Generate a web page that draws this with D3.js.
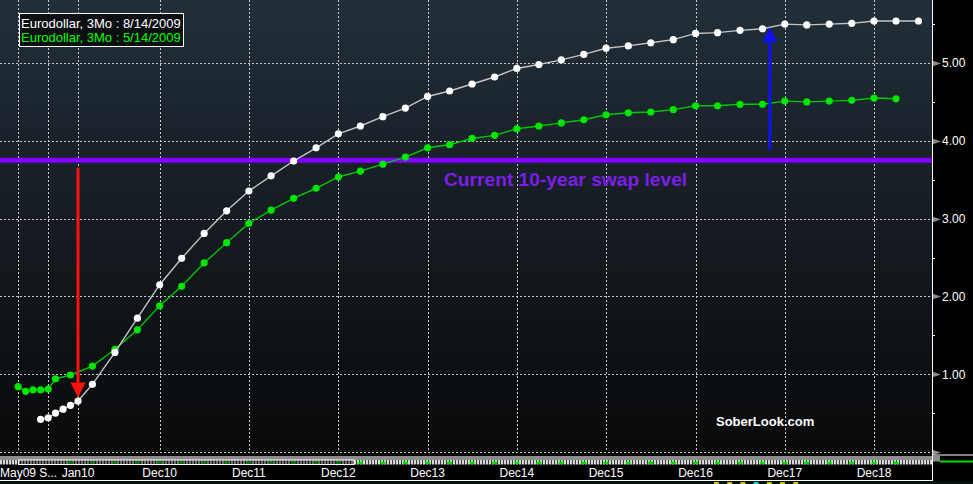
<!DOCTYPE html>
<html>
<head>
<meta charset="utf-8">
<script src="https://cdn.jsdelivr.net/npm/d3@7"></script>
<style>
html,body{margin:0;padding:0;background:#000;}
svg{display:block;}
text{font-family:"Liberation Sans",Arial,sans-serif;}
</style>
</head>
<body>
<svg id="chart" width="973" height="484"></svg>
<script>
// ---------- DATA ----------
const seriesNames = ["Eurodollar, 3Mo : 8/14/2009", "Eurodollar, 3Mo : 5/14/2009"];

const augContracts = ["Aug09","Sep09","Oct09","Nov09","Dec09","Jan10",
  "Mar10","Jun10","Sep10","Dec10","Mar11","Jun11","Sep11","Dec11",
  "Mar12","Jun12","Sep12","Dec12","Mar13","Jun13","Sep13","Dec13",
  "Mar14","Jun14","Sep14","Dec14","Mar15","Jun15","Sep15","Dec15",
  "Mar16","Jun16","Sep16","Dec16","Mar17","Jun17","Sep17","Dec17",
  "Mar18","Jun18","Sep18","Dec18","Mar19","Jun19"];
const augValues = [0.42,0.44,0.50,0.55,0.60,0.655,
  0.87,1.28,1.72,2.15,2.49,2.81,3.10,3.355,
  3.55,3.74,3.91,4.09,4.19,4.31,4.42,4.57,
  4.64,4.73,4.82,4.93,4.98,5.04,5.11,5.19,
  5.22,5.26,5.30,5.38,5.39,5.42,5.44,5.50,
  5.49,5.50,5.51,5.54,5.54,5.54];

const mayContracts = ["May09","Jun09","Jul09","Aug09","Sep09","Oct09","Dec09",
  "Mar10","Jun10","Sep10","Dec10","Mar11","Jun11","Sep11","Dec11",
  "Mar12","Jun12","Sep12","Dec12","Mar13","Jun13","Sep13","Dec13",
  "Mar14","Jun14","Sep14","Dec14","Mar15","Jun15","Sep15","Dec15",
  "Mar16","Jun16","Sep16","Dec16","Mar17","Jun17","Sep17","Dec17",
  "Mar18","Jun18","Sep18","Dec18","Mar19"];
const mayValues = [0.84,0.78,0.80,0.80,0.81,0.94,0.99,
  1.105,1.32,1.57,1.88,2.13,2.43,2.69,2.94,
  3.11,3.26,3.39,3.535,3.61,3.70,3.79,3.91,
  3.95,4.03,4.07,4.155,4.19,4.23,4.27,4.335,
  4.36,4.37,4.40,4.45,4.45,4.47,4.47,4.51,
  4.50,4.51,4.52,4.55,4.54];

const xTickDates = ["May09","Sep09","Jan10","Dec10","Dec11","Dec12","Dec13","Dec14","Dec15","Dec16","Dec17","Dec18"];
const xTickLabels = ["May09","S...","Jan10","Dec10","Dec11","Dec12","Dec13","Dec14","Dec15","Dec16","Dec17","Dec18"];
const yTickValues = [1,2,3,4,5];
const yGridValues = [0,1,2,3,4,5];
const yMinorValues = [0.5,1.5,2.5,3.5,4.5,5.5];

const swapLevel = 3.75;
const swapLabel = "Current 10-year swap level";
const redArrow = {date:"Jan10", from:3.65, to:0.70};
const blueArrow = {date:"Oct17", from:3.88, to:5.46};
const watermark = "SoberLook.com";

// ---------- SETUP ----------
const parse = d3.timeParse("%b%y");
const svg = d3.select("#chart");
const W = 973, H = 484;
const plotRight = 932, plotBottom = 456;

const x = d3.scaleTime().domain([parse("Jan10"), parse("Dec18")]).range([78, 874]);
const y = d3.scaleLinear().domain([0, 5]).range([452, 63]);

const defs = svg.append("defs");
const grad = defs.append("linearGradient").attr("id","bg").attr("x1",0).attr("y1",0).attr("x2",0).attr("y2",1);
grad.append("stop").attr("offset","0%").attr("stop-color","#222f39");
grad.append("stop").attr("offset","50%").attr("stop-color","#151b21");
grad.append("stop").attr("offset","100%").attr("stop-color","#08090a");

const stripes = defs.append("pattern").attr("id","stripes").attr("patternUnits","userSpaceOnUse")
  .attr("width",3).attr("height",5);
stripes.append("rect").attr("width",3).attr("height",5).attr("fill","#3a3a3a");
stripes.append("rect").attr("width",2).attr("height",5).attr("fill","#d8d8d8");
const stripesDark = defs.append("pattern").attr("id","stripesDark").attr("patternUnits","userSpaceOnUse")
  .attr("width",3).attr("height",5);
stripesDark.append("rect").attr("width",3).attr("height",5).attr("fill","#1a1a1a");
stripesDark.append("rect").attr("width",2).attr("height",5).attr("fill","#707070");

// background
svg.append("rect").attr("width",W).attr("height",H).attr("fill","#000");
svg.append("rect").attr("x",0).attr("y",0).attr("width",plotRight).attr("height",plotBottom).attr("fill","url(#bg)");

// ---------- GRID ----------
const grid = svg.append("g").attr("stroke","#c8c8c8").attr("stroke-width",1)
  .attr("stroke-dasharray","2,2").attr("shape-rendering","crispEdges");
grid.selectAll("line.v").data(xTickDates).join("line").attr("class","v")
  .attr("x1",d=>Math.round(x(parse(d)))+0.5).attr("x2",d=>Math.round(x(parse(d)))+0.5)
  .attr("y1",0).attr("y2",y(0));
grid.selectAll("line.h").data(yGridValues).join("line").attr("class","h")
  .attr("x1",0).attr("x2",plotRight)
  .attr("y1",d=>Math.round(y(d))+0.5).attr("y2",d=>Math.round(y(d))+0.5);

// ---------- SWAP LINE ----------
svg.append("line").attr("x1",0).attr("x2",plotRight).attr("y1",y(swapLevel)).attr("y2",y(swapLevel))
  .attr("stroke","#7f00ff").attr("stroke-width",5);
svg.append("text").attr("x",444).attr("y",y(swapLevel)+26).attr("fill","#7a1ee8")
  .attr("font-size",19.2).attr("font-weight","bold").attr("font-family","Liberation Sans, Arial, sans-serif")
  .text(swapLabel);

// ---------- SERIES ----------
function drawSeries(contracts, values, lineColor, dotColor){
  const data = contracts.map((c,i)=>({date:parse(c), v:values[i]}));
  const line = d3.line().x(d=>x(d.date)).y(d=>y(d.v));
  svg.append("path").datum(data).attr("d",line).attr("fill","none")
    .attr("stroke",lineColor).attr("stroke-width",1.4);
  svg.append("g").selectAll("circle").data(data).join("circle")
    .attr("cx",d=>x(d.date)).attr("cy",d=>y(d.v)).attr("r",3.6).attr("fill",dotColor);
}
drawSeries(mayContracts, mayValues, "#00c800", "#00e600");
drawSeries(augContracts, augValues, "#c4c4c4", "#ffffff");

// ---------- ARROWS ----------
function arrow(a, color){
  const ax = x(parse(a.date));
  const y0 = y(a.from), y1 = y(a.to);
  const dir = y1 > y0 ? 1 : -1;
  const headLen = 15, headHalf = 7.5;
  svg.append("line").attr("x1",ax).attr("x2",ax).attr("y1",y0).attr("y2",y1 - dir*headLen)
    .attr("stroke",color).attr("stroke-width",3);
  svg.append("path").attr("d",`M${ax-headHalf},${y1-dir*headLen}L${ax+headHalf},${y1-dir*headLen}L${ax},${y1}Z`)
    .attr("fill",color);
}
arrow(redArrow, "#ff1010");
arrow(blueArrow, "#1010f5");

// ---------- WATERMARK ----------
svg.append("text").attr("x",716).attr("y",426).attr("fill","#ffffff").attr("font-size",13)
  .attr("font-weight","bold").text(watermark);

// ---------- LEGEND ----------
const leg = svg.append("g");
leg.append("rect").attr("x",19.5).attr("y",13.5).attr("width",164).attr("height",33)
  .attr("fill","#0b0f12").attr("stroke","#ffffff").attr("stroke-width",1);
leg.append("text").attr("x",21).attr("y",27.5).attr("fill","#ffffff").attr("font-size",13).text(seriesNames[0]);
leg.append("text").attr("x",21).attr("y",42).attr("fill","#00ff00").attr("font-size",13).text(seriesNames[1]);

// ---------- RIGHT AXIS ----------
svg.append("rect").attr("x",plotRight).attr("y",0).attr("width",W-plotRight).attr("height",454).attr("fill","#000");
const yAxis = d3.axisRight(y).tickValues(yTickValues).tickFormat(d3.format(".2f")).tickSize(0).tickPadding(10);
const yg = svg.append("g").attr("transform",`translate(${plotRight},0)`).call(yAxis);
yg.select(".domain").remove();
yg.selectAll("text").attr("fill","#ffffff").attr("font-size",12).attr("font-family","Liberation Sans, Arial, sans-serif");
const yMinor = d3.axisRight(y).tickValues(yMinorValues).tickSize(3).tickFormat("");
const ym = svg.append("g").attr("transform",`translate(${plotRight},0)`).call(yMinor);
ym.select(".domain").remove();
ym.selectAll("line").attr("stroke","#ffffff").attr("shape-rendering","crispEdges");
svg.append("g").selectAll("path").data(yGridValues).join("path")
  .attr("d",d=>{const yy=Math.round(y(d))+0.5; return `M${plotRight},${yy-3}L${plotRight+9},${yy}L${plotRight},${yy+3}Z`;})
  .attr("fill","#8a8a8a");

// ---------- BOTTOM BAND ----------
svg.append("rect").attr("x",0).attr("y",456).attr("width",plotRight).attr("height",4).attr("fill","#8c8c8c");
svg.append("rect").attr("x",0).attr("y",460).attr("width",plotRight).attr("height",4.5).attr("fill","url(#stripes)");
const thumbStart = parse("May09"), thumbEnd = parse("Feb13");
svg.append("rect").attr("x",x(thumbStart)+0.5).attr("y",460).attr("width",x(thumbEnd)-x(thumbStart)).attr("height",4.5)
  .attr("fill","url(#stripesDark)").attr("stroke","#ffffff").attr("stroke-width",1);
svg.append("g").selectAll("rect").data(mayContracts.filter((c,i)=>i>=6)).join("rect")
  .attr("x",d=>x(parse(d))-2.5).attr("y",461.5).attr("width",5).attr("height",2.5)
  .attr("fill",d=>parse(d) < thumbEnd ? "#007a00" : "#00e000");

svg.append("line").attr("x1",plotRight).attr("x2",W).attr("y1",455).attr("y2",455).attr("stroke","#ffffff");
svg.append("rect").attr("x",plotRight).attr("y",455.5).attr("width",8).attr("height",6).attr("fill","#8c8c8c");
svg.append("line").attr("x1",plotRight+8).attr("x2",W).attr("y1",461.5).attr("y2",461.5).attr("stroke","#00dd00").attr("stroke-width",2);

// x labels
svg.append("g").selectAll("text").data(xTickDates).join("text")
  .attr("x",(d,i)=> i===0 ? 0 : x(parse(d)))
  .attr("text-anchor",(d,i)=> i===0 ? "start" : "middle")
  .attr("y",477).attr("fill","#ffffff").attr("font-size",12)
  .text((d,i)=>xTickLabels[i]);

svg.append("line").attr("x1",0).attr("x2",plotRight).attr("y1",480.5).attr("y2",480.5).attr("stroke","#ffffff");
svg.append("line").attr("x1",plotRight+0.5).attr("x2",plotRight+0.5).attr("y1",0).attr("y2",481).attr("stroke","#ffffff");
svg.append("rect").attr("x",0).attr("y",481).attr("width",W).attr("height",3).attr("fill","#04100e");
const dotCols = ["#c8c800","#c8c800","#c8c800","#00d8d8","#c8c800","#c8c800","#c8c800"];
svg.append("g").selectAll("rect").data(dotCols).join("rect")
  .attr("x",(d,i)=>714+i*13.2).attr("y",482).attr("width",5).attr("height",2).attr("fill",d=>d);
</script>
</body>
</html>
